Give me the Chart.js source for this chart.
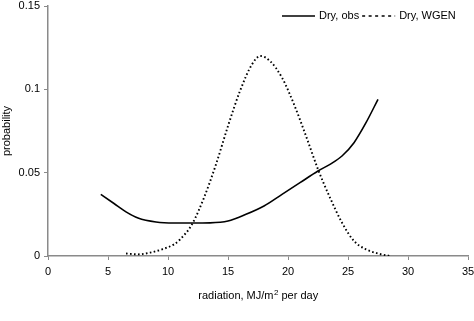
<!DOCTYPE html>
<html>
<head>
<meta charset="utf-8">
<script src="https://cdn.jsdelivr.net/npm/chart.js@4/dist/chart.umd.min.js"></script>
<style>
  html, body { margin: 0; padding: 0; background: #fff; }
  #chartDiv { width: 474px; height: 321px; }
</style>
</head>
<body>
<div id="chartDiv"><canvas id="myChart"></canvas></div>
<script>
// observed dry-day radiation distribution
const radiationObs = [4.4, 5.5, 6.5, 7.5, 9, 10.5, 12, 13.5, 15, 16.5, 18, 19.5, 21, 22.5, 23.5, 24.5, 25.5, 26.5, 27.5];
const probObs = [0.037, 0.0315, 0.0265, 0.0228, 0.0204, 0.0198, 0.0198, 0.0199, 0.021, 0.025, 0.030, 0.037, 0.044, 0.051, 0.055, 0.060, 0.068, 0.080, 0.094];

// WGEN generated dry-day distribution
const radiationWgen = [6.5, 7.5, 8.5, 9.5, 10.5, 11, 12, 13, 14, 15, 16, 17, 17.7, 18.5, 19.5, 20.5, 21.5, 22.5, 23.5, 24.5, 25.5, 26.5, 27.5, 28.5];
const probWgen = [0.0015, 0.001, 0.002, 0.004, 0.007, 0.0099, 0.019, 0.035, 0.055, 0.078, 0.099, 0.115, 0.12, 0.117, 0.107, 0.091, 0.072, 0.052, 0.035, 0.020, 0.009, 0.004, 0.0015, 0.0];

const xTicks = [0, 5, 10, 15, 20, 25, 30, 35];
const yTicks = [0, 0.05, 0.1, 0.15];

const FONT = '"Liberation Sans", Arial, sans-serif';
const axisGray = "#8a8a8a";

function toPoints(xs, ys) {
    return xs.map((x, i) => ({ x: x, y: ys[i] }));
}

// axis titles and the legend are drawn by hand: m² needs a real superscript
// and the legend sits inside the plot, top right, on one row
const extras = {
    id: "extras",
    afterDraw(chart) {
        const ctx = chart.ctx;
        const area = chart.chartArea;
        ctx.save();
        ctx.fillStyle = "#000";
        ctx.textBaseline = "alphabetic";

        // x title
        const a = "radiation, MJ/m";
        const b = "2";
        const c = " per day";
        ctx.font = "11px " + FONT;
        const wa = ctx.measureText(a).width;
        const wc = ctx.measureText(c).width;
        ctx.font = "8px " + FONT;
        const wb = ctx.measureText(b).width;
        let x = (area.left + area.right) / 2 - (wa + wb + wc) / 2;
        const y = 299;
        ctx.font = "11px " + FONT;
        ctx.fillText(a, x, y);
        x += wa;
        ctx.font = "8px " + FONT;
        ctx.fillText(b, x + 0.5, y - 4);
        x += wb + 0.5;
        ctx.font = "11px " + FONT;
        ctx.fillText(c, x, y);

        // legend (the dotted sample uses a coarser dash, as printed)
        ctx.font = "11px " + FONT;
        ctx.textBaseline = "middle";
        const legendY = 16;
        let lx = 282;
        chart.data.datasets.forEach(ds => {
            ctx.beginPath();
            ctx.setLineDash(ds.borderDash ? [3, 3.5] : []);
            ctx.lineWidth = ds.borderDash ? 1.5 : ds.borderWidth;
            ctx.strokeStyle = ds.borderColor;
            ctx.moveTo(lx, legendY);
            ctx.lineTo(lx + 33, legendY);
            ctx.stroke();
            ctx.setLineDash([]);
            ctx.fillText(ds.label, lx + 37, legendY);
            lx += 37 + ctx.measureText(ds.label).width + 3;
        });

        // y title
        ctx.textBaseline = "alphabetic";
        ctx.translate(10, (area.top + area.bottom) / 2);
        ctx.rotate(-Math.PI / 2);
        ctx.textAlign = "center";
        ctx.fillText("probability", 0, 0);
        ctx.restore();
    }
};

const canvas = document.getElementById("myChart");

new Chart(canvas, {
    type: "line",
    data: {
        datasets: [
            {
                label: "Dry, obs",
                data: toPoints(radiationObs, probObs),
                borderColor: "#000",
                backgroundColor: "#000",
                borderWidth: 1.6,
                pointRadius: 0,
                cubicInterpolationMode: "monotone",
                fill: false
            },
            {
                label: "Dry, WGEN",
                data: toPoints(radiationWgen, probWgen),
                borderColor: "#000",
                backgroundColor: "#000",
                borderWidth: 1.9,
                borderDash: [1.6, 2.4],
                pointRadius: 0,
                cubicInterpolationMode: "monotone",
                fill: false
            }
        ]
    },
    options: {
        responsive: true,
        maintainAspectRatio: false,
        animation: false,
        layout: {
            padding: { top: 6, right: 6, left: 0, bottom: 35 }
        },
        plugins: {
            tooltip: { enabled: false },
            legend: { display: false }
        },
        scales: {
            x: {
                type: "linear",
                min: 0,
                max: 35,
                afterBuildTicks(scale) {
                    scale.ticks = xTicks.map(v => ({ value: v }));
                },
                afterFit(scale) {
                    scale.height = 30;
                    scale.paddingLeft = 0;
                    scale.paddingRight = 0;
                },
                border: { color: axisGray, width: 1.5 },
                grid: {
                    drawOnChartArea: false,
                    drawTicks: true,
                    tickLength: 4,
                    color: axisGray
                },
                ticks: {
                    padding: 5,
                    color: "#000",
                    font: { family: FONT, size: 11 },
                    maxRotation: 0,
                    callback: v => String(v)
                }
            },
            y: {
                min: 0,
                max: 0.15,
                afterBuildTicks(scale) {
                    scale.ticks = yTicks.map(v => ({ value: v }));
                },
                afterFit(scale) {
                    scale.width = 48;
                    scale.paddingTop = 0;
                    scale.paddingBottom = 0;
                },
                border: { color: axisGray, width: 1.5 },
                grid: {
                    drawOnChartArea: false,
                    drawTicks: true,
                    tickLength: 4,
                    color: axisGray
                },
                ticks: {
                    padding: 4,
                    color: "#000",
                    font: { family: FONT, size: 11 },
                    callback: v => String(+v.toFixed(2))
                }
            }
        }
    },
    plugins: [extras]
});
</script>
</body>
</html>
